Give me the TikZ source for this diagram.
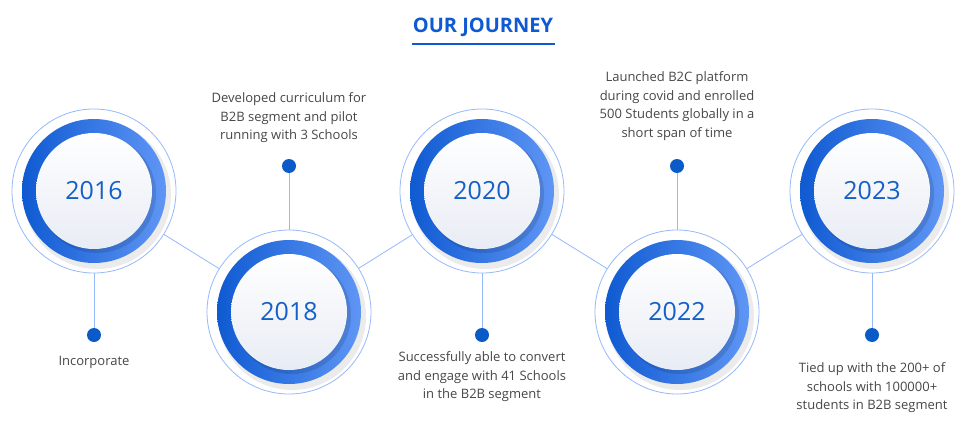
\documentclass[tikz,border=0pt]{standalone}
\usepackage{fontspec}
\setmainfont{Open Sans}
\usetikzlibrary{calc}
\begin{document}
\begin{tikzpicture}[x=1pt,y=-1pt,
  txt/.style={font=\fontsize{13}{18.5}\selectfont, text=black!72, align=center},
  yr/.style={circle, minimum size=116pt, inner sep=0, font=\fontsize{25}{30}\selectfont, text={rgb,255:red,20;green,95;blue,200}},
  link/.style={draw={rgb,255:red,150;green,185;blue,250}, line width=0.8pt},
  dot/.style={circle, fill={rgb,255:red,10;green,90;blue,200}, minimum size=14pt, inner sep=0}]
\definecolor{dk}{RGB}{15,90,210}
\definecolor{lt}{RGB}{95,150,245}
\useasboundingbox (0,0) rectangle (980,431);
\fill[white] (0,0) rectangle (980,431);
\node[font=\bfseries\fontsize{20}{24}\selectfont, text=dk] (title) at (483,27) {OUR JOURNEY};
\draw[dk, line width=1.8pt] (412,44) -- (555,44);
\foreach \n/\x/\y in {a/94/191, b/289/312, c/482/191, d/677/312, e/872/191}{
  \coordinate (\n) at (\x,\y);
}
\draw[link] (a) -- (b) -- (c) -- (d) -- (e);
\node[dot] (da) at (94,335) {};
\node[dot] (db) at (289,166) {};
\node[dot] (dc) at (482,335) {};
\node[dot] (dd) at (677,166) {};
\node[dot] (de) at (872,335) {};
\foreach \n in {a,b,c,d,e}{ \draw[link] (\n) -- (d\n); }
\foreach \n/\lab in {a/2016, b/2018, c/2020, d/2022, e/2023}{
  \fill[white] (\n) circle (82);
  \draw[link] (\n) circle (82);
  \fill[black, opacity=0.08] ($(\n)+(3,4)$) circle (74);
  \shade[left color=dk, right color=lt] (\n) circle (72);
  \fill[black, opacity=0.12] ($(\n)+(3,3)$) circle (59);
  \shade[top color=white, bottom color={rgb,255:red,232;green,236;blue,244}] (\n) circle (58);
  \node[yr] (y\n) at (\n) {\lab};
}
\node[txt] (ta) at (94,362) {Incorporate};
\node[txt] (tb) at (289,118) {Developed curriculum for\\B2B segment and pilot\\running with 3 Schools};
\node[txt] (tc) at (482,377) {Successfully able to convert\\and engage with 41 Schools\\in the B2B segment};
\node[txt] (td) at (677,106) {Launched B2C platform\\during covid and enrolled\\500 Students globally in a\\short span of time};
\node[txt] (te) at (872,388) {Tied up with the 200+ of\\schools with 100000+\\students in B2B segment};
\end{tikzpicture}
\end{document}
